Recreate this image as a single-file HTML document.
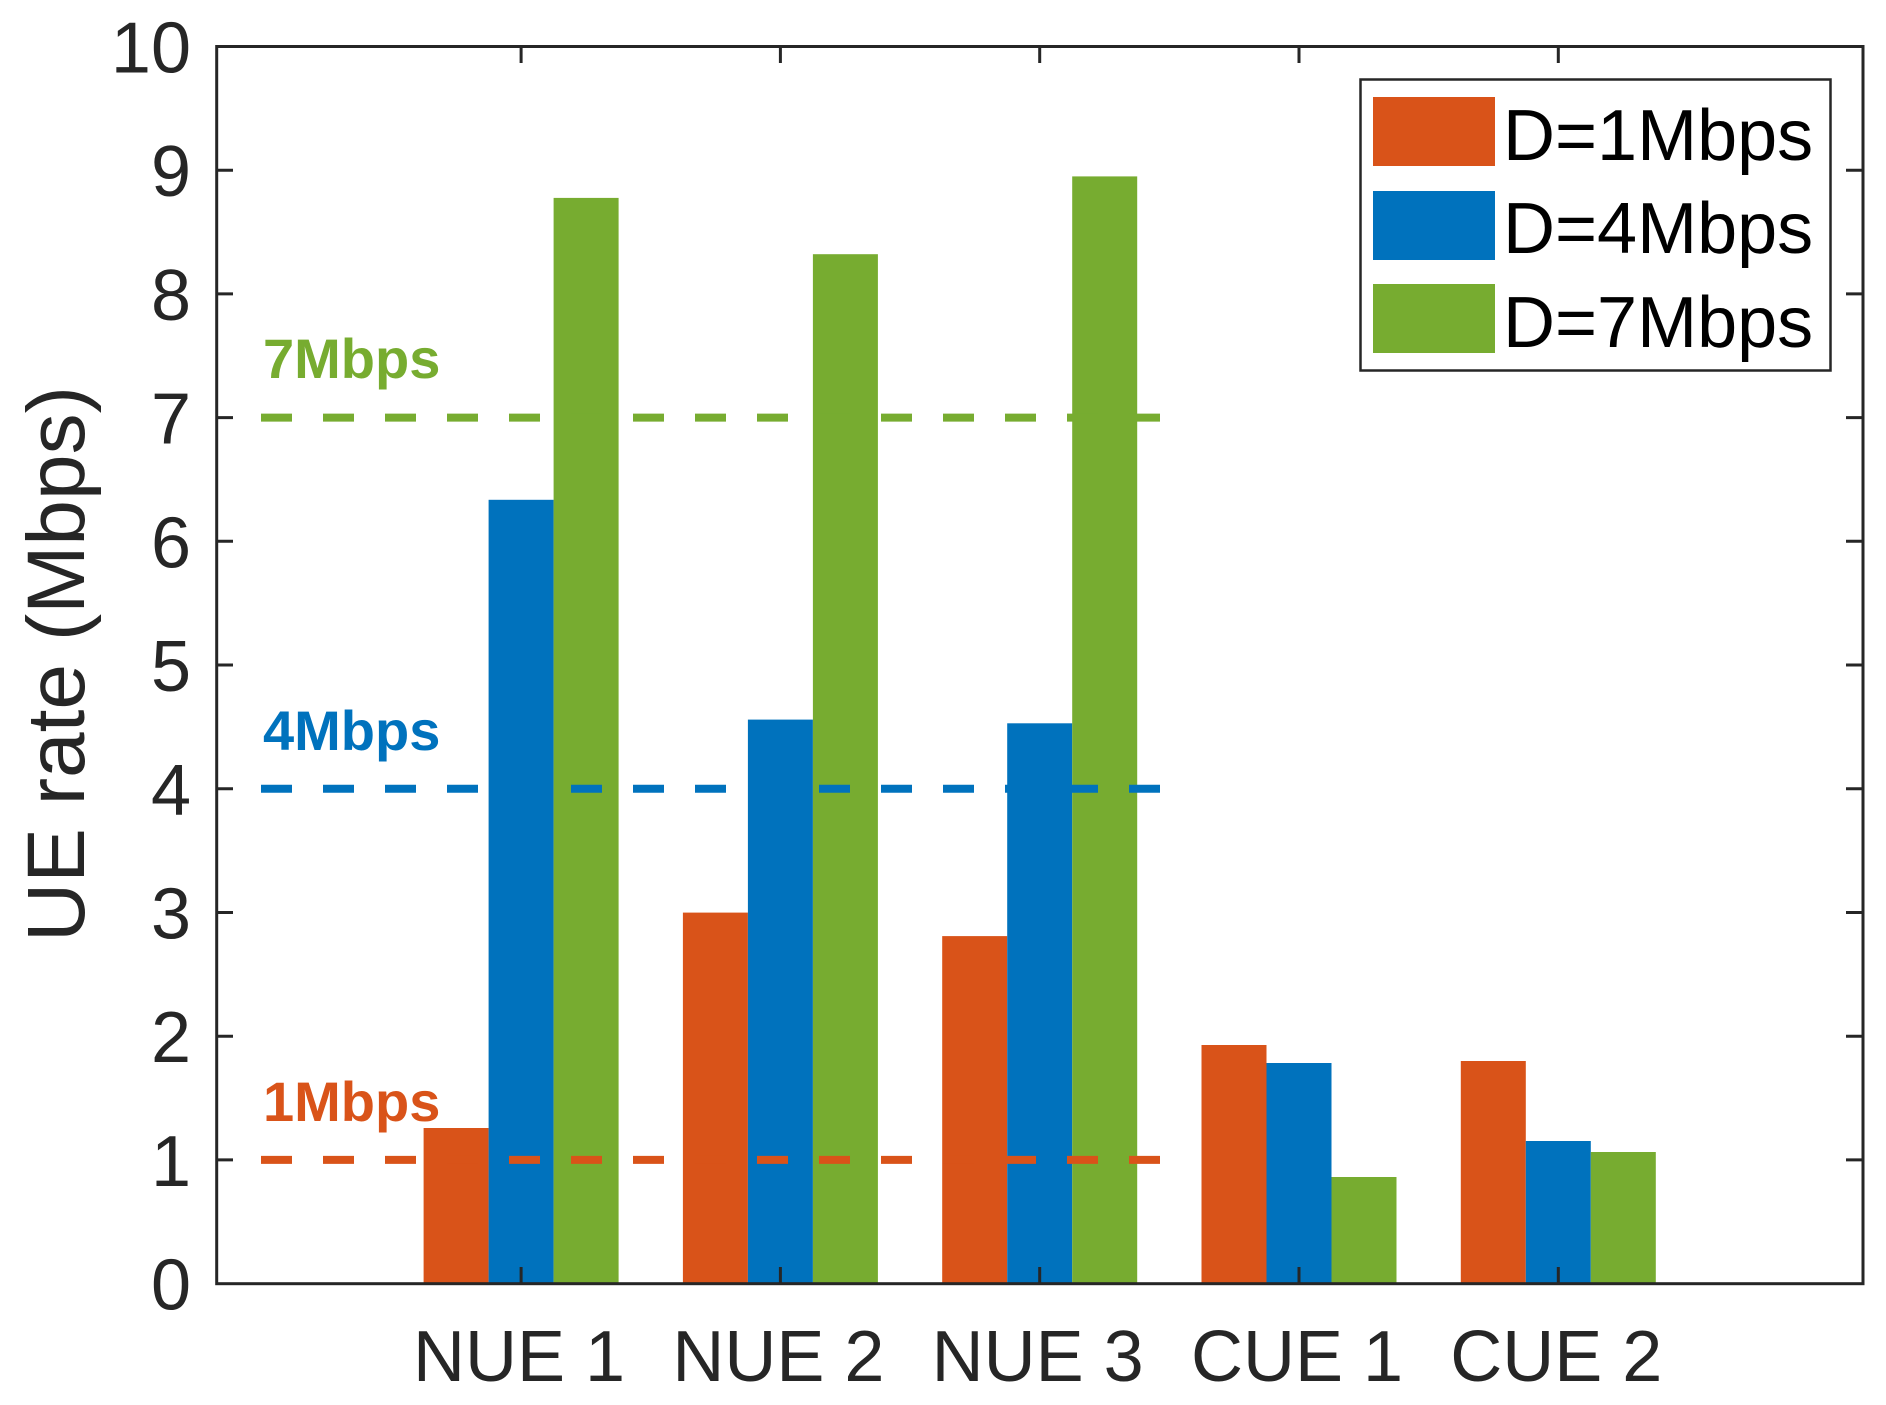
<!DOCTYPE html>
<html><head><meta charset="utf-8"><style>html,body{margin:0;padding:0;background:#fff}svg{display:block}</style></head>
<body>
<svg width="1886" height="1405" viewBox="0 0 1886 1405" xmlns="http://www.w3.org/2000/svg" font-family="Liberation Sans, Arial, sans-serif">
<rect width="1886" height="1405" fill="#fff"/>
<g>
<rect x="423.6" y="1128" width="65" height="155.7" fill="#D95319"/>
<rect x="488.6" y="499.8" width="65" height="783.9" fill="#0072BD"/>
<rect x="553.6" y="197.9" width="65" height="1085.8" fill="#77AC30"/>
<rect x="682.9" y="912.6" width="65" height="371.1" fill="#D95319"/>
<rect x="747.9" y="719.6" width="65" height="564.1" fill="#0072BD"/>
<rect x="812.9" y="254.2" width="65" height="1029.5" fill="#77AC30"/>
<rect x="942.2" y="936.1" width="65" height="347.6" fill="#D95319"/>
<rect x="1007.2" y="723.3" width="65" height="560.4" fill="#0072BD"/>
<rect x="1072.2" y="176.4" width="65" height="1107.3" fill="#77AC30"/>
<rect x="1201.5" y="1045" width="65" height="238.7" fill="#D95319"/>
<rect x="1266.5" y="1063" width="65" height="220.7" fill="#0072BD"/>
<rect x="1331.5" y="1177" width="65" height="106.7" fill="#77AC30"/>
<rect x="1460.8" y="1061" width="65" height="222.7" fill="#D95319"/>
<rect x="1525.8" y="1141" width="65" height="142.7" fill="#0072BD"/>
<rect x="1590.8" y="1152" width="65" height="131.7" fill="#77AC30"/>
</g>
<g stroke-width="8" stroke-dasharray="31 31" fill="none">
<line x1="261" y1="417.6" x2="1168" y2="417.6" stroke="#77AC30"/>
<line x1="261" y1="788.8" x2="1168" y2="788.8" stroke="#0072BD"/>
<line x1="261" y1="1159.9" x2="1168" y2="1159.9" stroke="#D95319"/>
</g>
<g font-weight="bold" font-size="56">
<text x="263" y="378" fill="#77AC30">7Mbps</text>
<text x="263" y="750" fill="#0072BD">4Mbps</text>
<text x="263" y="1121" fill="#D95319">1Mbps</text>
</g>
<rect x="216.7" y="46.5" width="1646.3" height="1237.2" fill="none" stroke="#262626" stroke-width="3"/>
<g stroke="#262626" stroke-width="3">
<line x1="216.7" y1="170.2" x2="233" y2="170.2"/><line x1="1863" y1="170.2" x2="1846" y2="170.2"/>
<line x1="216.7" y1="293.9" x2="233" y2="293.9"/><line x1="1863" y1="293.9" x2="1846" y2="293.9"/>
<line x1="216.7" y1="417.6" x2="233" y2="417.6"/><line x1="1863" y1="417.6" x2="1846" y2="417.6"/>
<line x1="216.7" y1="541.3" x2="233" y2="541.3"/><line x1="1863" y1="541.3" x2="1846" y2="541.3"/>
<line x1="216.7" y1="665" x2="233" y2="665"/><line x1="1863" y1="665" x2="1846" y2="665"/>
<line x1="216.7" y1="788.8" x2="233" y2="788.8"/><line x1="1863" y1="788.8" x2="1846" y2="788.8"/>
<line x1="216.7" y1="912.5" x2="233" y2="912.5"/><line x1="1863" y1="912.5" x2="1846" y2="912.5"/>
<line x1="216.7" y1="1036.2" x2="233" y2="1036.2"/><line x1="1863" y1="1036.2" x2="1846" y2="1036.2"/>
<line x1="216.7" y1="1159.9" x2="233" y2="1159.9"/><line x1="1863" y1="1159.9" x2="1846" y2="1159.9"/>
<line x1="521.1" y1="1283.7" x2="521.1" y2="1267"/><line x1="521.1" y1="46.5" x2="521.1" y2="63"/>
<line x1="780.4" y1="1283.7" x2="780.4" y2="1267"/><line x1="780.4" y1="46.5" x2="780.4" y2="63"/>
<line x1="1039.7" y1="1283.7" x2="1039.7" y2="1267"/><line x1="1039.7" y1="46.5" x2="1039.7" y2="63"/>
<line x1="1299" y1="1283.7" x2="1299" y2="1267"/><line x1="1299" y1="46.5" x2="1299" y2="63"/>
<line x1="1558.3" y1="1283.7" x2="1558.3" y2="1267"/><line x1="1558.3" y1="46.5" x2="1558.3" y2="63"/>
</g>
<g font-size="72" fill="#262626" text-anchor="end">
<text x="191" y="72.5">10</text>
<text x="191" y="196.2">9</text>
<text x="191" y="319.9">8</text>
<text x="191" y="443.6">7</text>
<text x="191" y="567.3">6</text>
<text x="191" y="691">5</text>
<text x="191" y="814.8">4</text>
<text x="191" y="938.5">3</text>
<text x="191" y="1062.2">2</text>
<text x="191" y="1185.9">1</text>
<text x="191" y="1309.7">0</text>
</g>
<g font-size="72" fill="#262626" text-anchor="middle">
<text x="519" y="1381">NUE 1</text>
<text x="778.4" y="1381">NUE 2</text>
<text x="1037.7" y="1381">NUE 3</text>
<text x="1297" y="1381">CUE 1</text>
<text x="1556.3" y="1381">CUE 2</text>
</g>
<text transform="translate(84,664) rotate(-90)" font-size="82" fill="#262626" text-anchor="middle">UE rate (Mbps)</text>
<rect x="1360.5" y="79.5" width="470" height="291" fill="#fff" stroke="#262626" stroke-width="2.5"/>
<rect x="1373" y="97" width="122" height="69" fill="#D95319"/>
<rect x="1373" y="191" width="122" height="69" fill="#0072BD"/>
<rect x="1373" y="284" width="122" height="69" fill="#77AC30"/>
<g font-size="72" fill="#000">
<text x="1503" y="160">D=1Mbps</text>
<text x="1503" y="253">D=4Mbps</text>
<text x="1503" y="347">D=7Mbps</text>
</g>
</svg>
</body></html>
